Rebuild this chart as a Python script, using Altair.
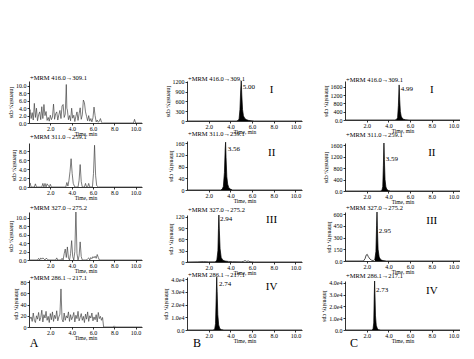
import altair as alt
import pandas as pd

FONT = "Liberation Serif"
X_MAX = 10.6

# ---------------- Column A (blank) ----------------
A1_t = [0.0,0.1,0.2,0.3,0.4,0.5,0.6,0.7,0.8,0.9,1.0,1.1,1.2,1.3,1.4,1.5,1.6,1.7,1.8,1.9,2.0,2.1,2.2,2.3,2.4,2.5,2.6,2.7,2.8,2.9,3.0,3.1,3.2,3.3,3.4,3.5,
        3.55,3.6,3.7,3.8,3.9,4.0,4.1,4.2,4.3,4.4,4.5,4.6,4.7,4.8,4.9,5.0,5.1,5.2,5.3,5.4,5.5,5.6,5.7,5.8,5.9,6.0,6.1,6.2,6.3,6.4,6.5,6.6,6.7,6.8,6.9,7.0,
        9.8,9.9,10.0,10.1,10.6]
A1_v = [2.6,3.6,1.2,2.8,0.8,5.3,1.5,4.0,0.6,2.2,3.0,0.9,4.4,1.2,5.0,2.0,3.1,0.7,1.5,0.5,2.1,0.9,1.6,5.1,1.0,2.5,3.0,0.8,2.2,3.4,1.2,4.6,5.0,1.5,2.4,10.4,
        4.0,3.5,0.9,2.0,0.6,4.0,1.3,2.1,0.4,1.8,3.0,0.7,2.5,4.1,1.0,2.2,6.2,5.5,3.0,1.8,0.6,2.0,0.5,1.2,0.3,1.4,4.3,2.0,0.3,0.8,0.2,0.5,1.2,0.2,0.0,0.0,
        0.0,1.0,0.0,0.0,0.0]

A2_t = [0.0,0.1,0.2,0.5,0.6,0.7,1.2,1.3,1.4,1.5,1.6,1.7,1.9,2.0,2.1,3.45,3.55,3.65,3.75,3.85,3.95,4.05,4.15,4.3,
        4.6,4.7,4.8,4.9,5.0,5.2,5.3,5.4,5.5,5.6,5.7,5.95,6.05,6.15,6.25,6.35,6.5,10.6]
A2_v = [0,0.9,0,0,0.7,0,0,0.8,0,0.8,0,0.7,0,0.6,0,0,1.0,0.2,1.5,3.5,6.3,3.0,0.8,0,
        0,1.5,5.0,1.2,0,0,0.8,0,0,0.8,0,0,3.0,9.3,2.5,0.3,0,0]

A3_t = [0.0,0.8,0.9,1.0,1.1,1.2,1.3,1.5,1.6,1.7,1.8,2.5,2.6,2.7,
        3.0,3.1,3.2,3.3,3.4,3.5,3.6,3.7,3.8,3.9,4.0,4.1,4.2,4.3,4.4,4.5,4.6,4.7,4.8,4.9,5.0,
        5.4,5.5,5.6,5.7,5.8,5.9,6.0,6.1,6.2,6.3,6.4,6.5,6.6,10.6]
A3_v = [0,0,0.4,0,0.5,0.2,0.5,0,0.4,0.3,0,0,0.5,0,
        0,0.4,0,1.5,2.6,0.6,3.1,0.5,0,1.5,4.6,0.8,0,2.0,12.0,1.5,0,1.0,4.3,0.8,0,
        0,0.3,0.5,0,0.6,0.3,0.8,0.5,0.9,0.4,1.3,0.6,0,0]

A4_t = [0.0,0.1,0.2,0.3,0.4,0.5,0.6,0.7,0.8,0.9,1.0,1.1,1.2,1.3,1.4,1.5,1.6,1.7,1.8,1.9,
        2.0,2.1,2.2,2.3,2.4,2.5,2.6,2.7,2.8,2.9,3.0,3.1,3.2,3.3,3.4,3.5,3.6,3.7,3.8,3.9,
        4.0,4.1,4.2,4.3,4.4,4.5,4.6,4.7,4.8,4.9,5.0,5.1,5.2,5.3,5.4,5.5,5.6,5.7,5.8,5.9,
        6.0,6.1,6.2,6.3,6.4,6.5,6.6,6.7,6.8,6.9,7.0,7.9,8.0,8.1,10.6]
A4_v = [22,15,18,10,25,12,8,20,14,26,11,17,30,9,22,16,28,12,19,8,
        24,13,27,10,21,15,29,11,18,23,68,14,9,25,12,20,16,27,10,22,
        13,18,26,9,21,15,28,11,17,24,12,19,8,23,14,27,10,20,16,25,
        11,18,13,22,9,26,15,19,12,17,0,0,2,0,0]

# ---------------- Column B ----------------
B1_t = [0,4.55,4.7,4.8,4.88,4.95,5.0,5.05,5.12,5.2,5.3,5.45,5.65,5.9,6.2,10.6]
B1_v = [0,0,15,60,350,950,1230,800,350,160,90,45,20,8,0,0]
B2_t = [0,3.1,3.25,3.35,3.45,3.52,3.56,3.6,3.67,3.75,3.85,4.0,4.2,10.6]
B2_v = [0,0,3,12,60,140,163,110,45,20,8,3,0,0]
B3_t = [0,1.0,1.5,2.0,2.6,2.75,2.85,2.9,2.94,2.98,3.05,3.15,3.3,3.5,3.8,4.2,5.0,5.2,5.35,5.5,5.65,5.8,6.2,10.6]
B3_v = [0,0.5,1.2,0.5,0.5,5,30,90,128,85,35,12,5,2.5,1.5,1,0.5,1.5,3.5,1.5,2.5,0.8,0,0]
B4_t = [0,2.4,2.55,2.63,2.69,2.74,2.78,2.84,2.92,3.02,3.15,3.4,10.6]
B4_v = [0,0,500,5000,25000,41500,30000,12000,4000,1200,300,0,0]

# ---------------- Column C ----------------
C1_t = [0,4.6,4.75,4.85,4.92,4.99,5.04,5.1,5.18,5.28,5.4,5.6,5.9,10.6]
C1_v = [0,0,20,120,700,1700,1000,420,180,80,35,10,0,0]
C2_t = [0,3.25,3.4,3.48,3.54,3.59,3.63,3.69,3.77,3.87,4.0,4.2,10.6]
C2_v = [0,0,20,150,900,1690,1100,400,140,50,15,0,0]
C3_t = [0,1.7,1.85,1.95,2.05,2.15,2.3,2.45,2.6,2.75,2.85,2.91,2.95,2.99,3.05,3.15,3.3,3.5,3.8,10.6]
C3_v = [0,0,30,75,85,55,25,10,5,20,120,450,630,400,150,50,15,5,0,0]
C4_t = [0,2.45,2.58,2.65,2.69,2.73,2.76,2.81,2.88,2.98,3.1,3.3,10.6]
C4_v = [0,0,600,6000,26000,42000,31000,12000,4000,1200,300,0,0]

TITLES = ["+MRM 416.0\u2192309.1", "+MRM 311.0\u2192259.1", "+MRM 327.0\u2192275.2", "+MRM 286.1\u2192217.1"]
ROMANS = ["I", "II", "III", "IV"]
X_TICKS = [2, 4, 6, 8, 10]

LBL_1F = "format(datum.value, '.1f')"
LBL_D = "format(datum.value, 'd')"
LBL_Z_D = "datum.value == 0 ? '0.0' : format(datum.value, 'd')"
LBL_E4 = "datum.value == 0 ? '0.0' : format(datum.value / 10000, '.1f') + 'e4'"


def panel(t, v, title, title_dy, ydom, yticks, lblexpr, h, w, color="#444444", fill=None,
          peak=None, roman=None, letter=None):
    df = pd.DataFrame({"t": t, "v": v})
    xaxis = alt.Axis(values=X_TICKS, format=".1f", title="Time, min",
                     labelOverlap=False, labelFlush=False, labelBound=False)
    yaxis = alt.Axis(values=yticks, labelExpr=lblexpr, title="Intensity, cps",
                     labelOverlap=False, labelFlush=False, labelBound=False)
    xscale = alt.Scale(domain=[0, X_MAX], nice=False, zero=False)
    yscale = alt.Scale(domain=ydom, nice=False)
    xenc = alt.X("t:Q", scale=xscale, axis=xaxis)
    yenc = alt.Y("v:Q", scale=yscale, axis=yaxis, stack=None)
    layers = [alt.Chart(df).mark_line(color=color, strokeWidth=0.7, clip=True).encode(x=xenc, y=yenc)]
    if fill is not None:
        layers.append(
            alt.Chart(df).transform_filter(f"datum.t >= {fill[0]} && datum.t <= {fill[1]}")
            .mark_area(color="black", clip=True).encode(x=xenc, y=yenc))
    tdf = pd.DataFrame({"s": [title]})
    layers.append(alt.Chart(tdf).mark_text(align="left", baseline="middle", font=FONT, fontSize=6.5)
                  .encode(x=alt.value(1), y=alt.value(title_dy), text="s:N"))
    if peak is not None:
        pdf = pd.DataFrame({"t": [peak[0]], "v": [peak[1]], "s": [peak[2]]})
        layers.append(alt.Chart(pdf).mark_text(align="left", baseline="middle", font=FONT, fontSize=7)
                      .encode(x=xenc, y=yenc, text="s:N"))
    if roman is not None:
        rdf = pd.DataFrame({"t": [roman[0]], "v": [roman[1]], "s": [roman[2]]})
        layers.append(alt.Chart(rdf).mark_text(align="center", baseline="middle", font=FONT, fontSize=11)
                      .encode(x=xenc, y=yenc, text="s:N"))
    if letter is not None:
        ldf = pd.DataFrame({"s": [letter[0]]})
        layers.append(alt.Chart(ldf).mark_text(align="center", baseline="middle", font=FONT, fontSize=12)
                      .encode(x=alt.value(letter[1]), y=alt.value(h + letter[2]), text="s:N"))
    return alt.layer(*layers).properties(width=w, height=h)


def column(p1, p2, p3, p4, s_a, s_b, s_mid):
    top = alt.vconcat(p1, p2, spacing=s_a, bounds="flush")
    bot = alt.vconcat(p3, p4, spacing=s_b, bounds="flush")
    return alt.vconcat(top, bot, spacing=s_mid)


colA = column(
    panel(A1_t, A1_v, TITLES[0], -3, [0, 11.35], [0, 2, 4, 6, 8, 10], LBL_1F, 42, 113),
    panel(A2_t, A2_v, TITLES[1], -6, [0, 9.8], [0, 2, 4, 6, 8], LBL_1F, 44, 113),
    panel(A3_t, A3_v, TITLES[2], -4, [0, 11.4], [0, 2, 4, 6, 8, 10], LBL_1F, 48, 113),
    panel(A4_t, A4_v, TITLES[3], -2, [0, 84], [0, 20, 40, 60, 80], LBL_D, 47, 113, letter=("A", 5, 16)),
    20, 20, 4)

colB = column(
    panel(B1_t, B1_v, TITLES[0], -2, [0, 1230], [0, 300, 600, 900, 1200], LBL_D, 40, 115, color="black",
          fill=(4.5, 6.3), peak=(5.15, 1050, "5.00"), roman=(7.8, 950, ROMANS[0])),
    panel(B2_t, B2_v, TITLES[1], -7, [0, 167], [0, 40, 80, 120, 160], LBL_D, 49, 115, color="black",
          fill=(3.0, 4.3), peak=(3.75, 140, "3.56"), roman=(7.8, 126, ROMANS[1])),
    panel(B3_t, B3_v, TITLES[2], -5, [0, 125.3], [0, 30, 60, 90, 120], LBL_D, 47, 115, color="black",
          fill=(2.6, 3.8), peak=(3.05, 115, "2.94"), roman=(7.8, 112, ROMANS[2])),
    panel(B4_t, B4_v, TITLES[3], -2, [0, 41600], [0, 10000, 20000, 30000, 40000], LBL_E4, 53, 115, color="black",
          fill=(2.3, 3.5), peak=(2.95, 36000, "2.74"), roman=(7.8, 33700, ROMANS[3]), letter=("B", 10, 13)),
    20, 15, 3)

colC = column(
    panel(C1_t, C1_v, TITLES[0], -1, [0, 1890], [0, 400, 800, 1200, 1600], LBL_Z_D, 39, 115, color="black",
          fill=(4.5, 6.0), peak=(5.15, 1520, "4.99"), roman=(8.0, 1450, ROMANS[0])),
    panel(C2_t, C2_v, TITLES[1], -8, [0, 1670], [0, 400, 800, 1200, 1600], LBL_Z_D, 48, 115, color="black",
          fill=(3.2, 4.3), peak=(3.75, 1110, "3.59"), roman=(8.0, 1320, ROMANS[1])),
    panel(C3_t, C3_v, TITLES[2], -4, [0, 626], [0, 150, 300, 450, 600], LBL_Z_D, 49, 115, color="black",
          fill=(2.7, 3.9), peak=(3.1, 383, "2.95"), roman=(8.0, 510, ROMANS[2])),
    panel(C4_t, C4_v, TITLES[3], -5, [0, 41700], [0, 10000, 20000, 30000, 40000], LBL_E4, 49, 115, color="black",
          fill=(2.4, 3.4), peak=(2.85, 34000, "2.73"), roman=(8.0, 33000, ROMANS[3]), letter=("C", 9, 13)),
    23, 20, 0)

chart = alt.hconcat(alt.hconcat(colA, colB, spacing=21), colC, spacing=19).properties(
    padding={"left": 0, "top": 67, "right": 0, "bottom": 0}
).configure_view(stroke=None).configure_axis(
    grid=False, domainColor="black", tickColor="black", labelColor="black", titleColor="black",
    labelFont=FONT, titleFont=FONT, labelFontSize=6, titleFontSize=6, titleFontWeight="normal",
    tickSize=2, labelPadding=1, titlePadding=1, domainWidth=0.8, tickWidth=0.8
).configure_axisY(titleAngle=90, titleBaseline="top").configure_axisX(
    labelPadding=0, labelFontSize=6, titleFontSize=5.5, titlePadding=0)

chart.save("out.html", embed_options={"renderer": "svg", "actions": False})
